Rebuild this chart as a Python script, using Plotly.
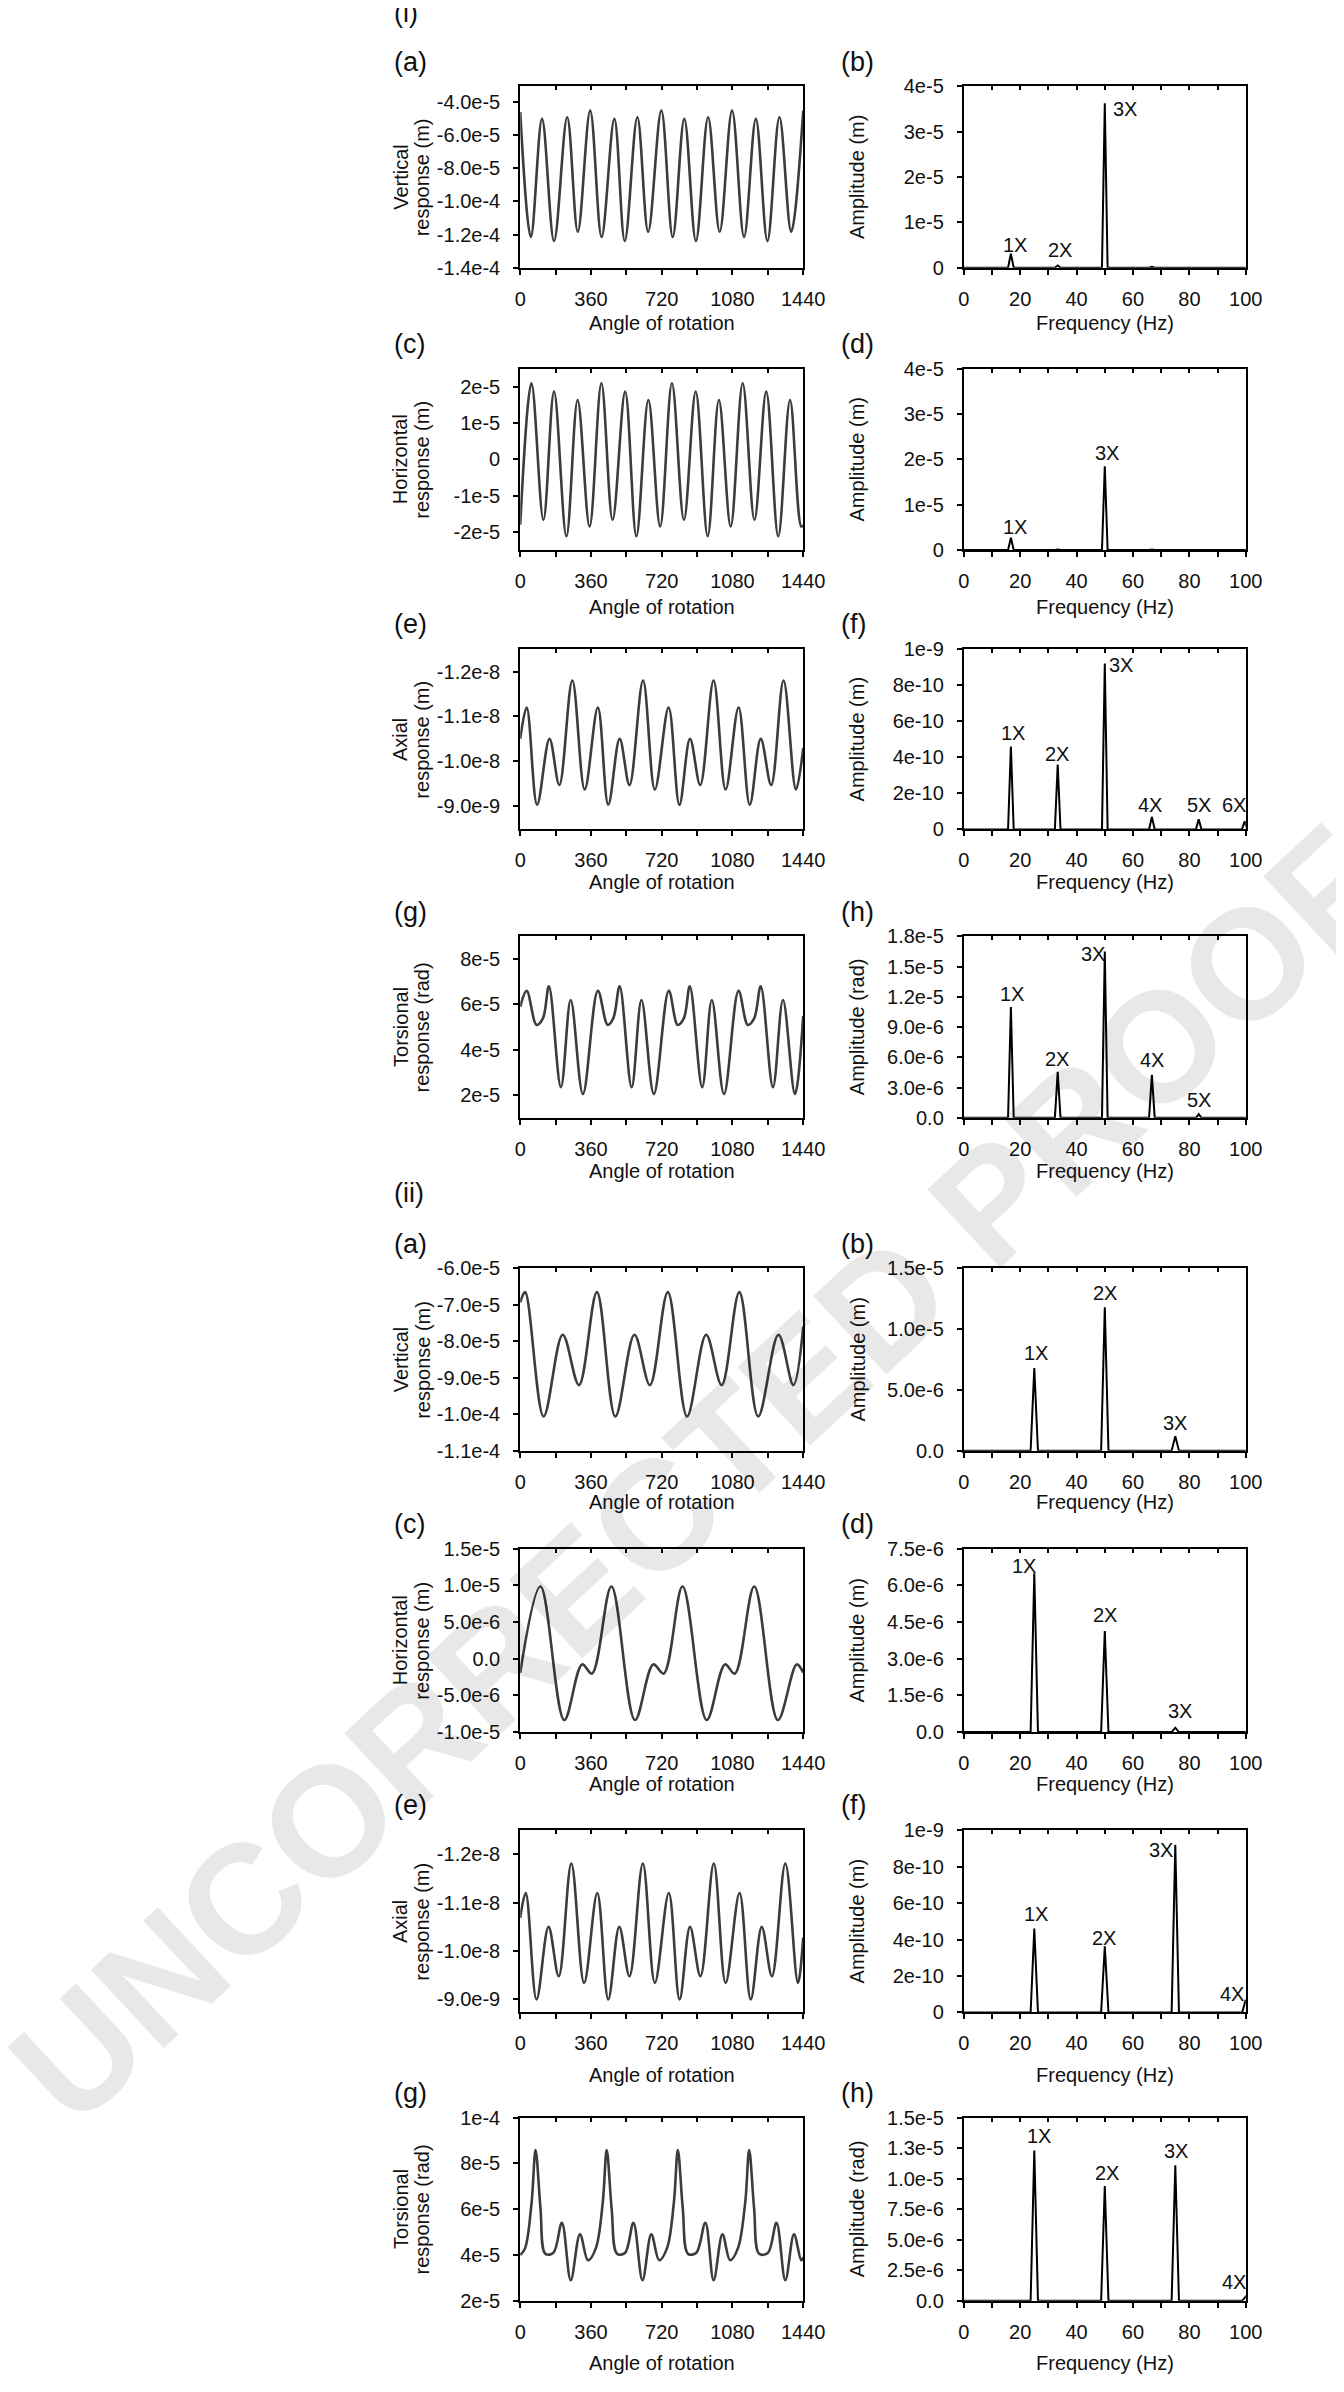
import plotly.graph_objects as go

W, H = 1344, 2392

# ---------------- data ----------------
# time responses: (angle in degrees, value) at the turning points of each curve

# (i)(a) vertical response (m)
vert1_angle = [0, 54, 111, 172, 239, 293, 356, 414, 479, 532, 596, 651, 718, 776, 835, 894,
               956, 1015, 1078, 1139, 1199, 1258, 1319, 1379, 1440]
vert1_value = [-4.6e-5, -1.215e-4, -5.02e-5, -1.239e-4, -4.92e-5, -1.183e-4, -4.52e-5,
               -1.215e-4, -5.02e-5, -1.239e-4, -4.92e-5, -1.183e-4, -4.52e-5,
               -1.215e-4, -5.02e-5, -1.239e-4, -4.92e-5, -1.183e-4, -4.52e-5,
               -1.215e-4, -5.02e-5, -1.239e-4, -4.92e-5, -1.183e-4, -4.52e-5]

# (i)(c) horizontal response (m)
horiz1_angle = [0, 57, 118, 172, 235, 292, 353, 413, 470, 534, 591, 652, 712, 772, 833, 893,
                954, 1011, 1071, 1132, 1192, 1252, 1313, 1373, 1430, 1440]
horiz1_value = [-1.8e-5, 2.10e-5, -1.67e-5, 1.87e-5, -2.12e-5, 1.64e-5, -1.85e-5,
                2.10e-5, -1.67e-5, 1.87e-5, -2.12e-5, 1.64e-5, -1.85e-5,
                2.10e-5, -1.67e-5, 1.87e-5, -2.12e-5, 1.64e-5, -1.85e-5,
                2.10e-5, -1.67e-5, 1.87e-5, -2.12e-5, 1.64e-5, -1.85e-5, -1.82e-5]

# (i)(e) axial response (m)
axial1_angle = [0, 33, 86, 149, 199, 265, 328, 395, 448, 506, 556, 625, 685, 755, 810, 864,
                916, 984, 1045, 1111, 1168, 1224, 1277, 1340, 1403, 1440]
axial1_value = [-1.05e-8, -1.12e-8, -9.03e-9, -1.05e-8, -9.47e-9, -1.18e-8, -9.37e-9,
                -1.12e-8, -9.03e-9, -1.05e-8, -9.47e-9, -1.18e-8, -9.37e-9,
                -1.12e-8, -9.03e-9, -1.05e-8, -9.47e-9, -1.18e-8, -9.37e-9,
                -1.12e-8, -9.03e-9, -1.05e-8, -9.47e-9, -1.18e-8, -9.37e-9, -1.03e-8]

# (i)(g) torsional response (rad)
tors1_angle = [0, 33, 83, 116, 146, 207, 257, 319, 395, 445, 474, 506, 567, 617, 680,
               756, 801, 833, 863, 926, 975, 1037, 1111, 1158, 1191, 1224, 1286, 1337, 1398, 1440]
tors1_value = [5.9e-5, 6.6e-5, 5.1e-5, 5.4e-5, 6.8e-5, 2.35e-5, 6.2e-5, 2.05e-5,
               6.6e-5, 5.1e-5, 5.4e-5, 6.8e-5, 2.35e-5, 6.2e-5, 2.05e-5,
               6.6e-5, 5.1e-5, 5.4e-5, 6.8e-5, 2.35e-5, 6.2e-5, 2.05e-5,
               6.6e-5, 5.1e-5, 5.4e-5, 6.8e-5, 2.35e-5, 6.2e-5, 2.05e-5, 5.5e-5]

# (ii)(a) vertical response (m)
vert2_angle = [0, 25, 119, 216, 299, 390, 484, 581, 660, 751, 849, 946, 1025, 1115, 1211,
               1314, 1390, 1440]
vert2_value = [-6.93e-5, -6.65e-5, -1.006e-4, -7.82e-5, -9.2e-5, -6.65e-5, -1.006e-4,
               -7.82e-5, -9.2e-5, -6.65e-5, -1.006e-4, -7.82e-5, -9.2e-5, -6.65e-5,
               -1.006e-4, -7.82e-5, -9.2e-5, -7.6e-5]

# (ii)(c) horizontal response (m)
horiz2_angle = [0, 103, 224, 315, 365, 464, 584, 677, 730, 826, 949, 1042, 1092, 1191,
                1311, 1407, 1440]
horiz2_value = [-1.9e-6, 9.85e-6, -8.36e-6, -7.7e-7, -2.03e-6, 9.85e-6, -8.36e-6, -7.7e-7,
                -2.03e-6, 9.85e-6, -8.36e-6, -7.7e-7, -2.03e-6, 9.85e-6, -8.36e-6,
                -7.7e-7, -1.9e-6]

# (ii)(e) axial response (m)
axial2_angle = [0, 28, 83, 144, 196, 260, 325, 392, 448, 504, 556, 624, 685, 756, 811, 864,
                917, 985, 1045, 1116, 1173, 1229, 1281, 1349, 1413, 1440]
axial2_value = [-1.069e-8, -1.12e-8, -9.0e-9, -1.05e-8, -9.48e-9, -1.181e-8, -9.34e-9,
                -1.12e-8, -9.0e-9, -1.05e-8, -9.48e-9, -1.181e-8, -9.34e-9,
                -1.12e-8, -9.0e-9, -1.05e-8, -9.48e-9, -1.181e-8, -9.34e-9,
                -1.12e-8, -9.0e-9, -1.05e-8, -9.48e-9, -1.181e-8, -9.34e-9, -1.028e-8]

# (ii)(g) torsional response (rad)
tors2_angle = [0, 25, 58, 78, 103, 128, 169, 212, 257, 304, 345,
               385, 420, 440, 465, 493, 534, 576, 622, 667, 707,
               747, 782, 802, 827, 854, 896, 942, 984, 1029, 1068,
               1108, 1145, 1165, 1190, 1216, 1261, 1304, 1349, 1393, 1430, 1440]
tors2_value = [4.0e-5, 4.3e-5, 6.3e-5, 8.58e-5, 6.05e-5, 4.05e-5, 4.1e-5, 5.4e-5, 2.9e-5, 4.9e-5, 3.77e-5,
               4.3e-5, 6.3e-5, 8.58e-5, 6.05e-5, 4.05e-5, 4.1e-5, 5.4e-5, 2.9e-5, 4.9e-5, 3.77e-5,
               4.3e-5, 6.3e-5, 8.58e-5, 6.05e-5, 4.05e-5, 4.1e-5, 5.4e-5, 2.9e-5, 4.9e-5, 3.77e-5,
               4.3e-5, 6.3e-5, 8.58e-5, 6.05e-5, 4.05e-5, 4.1e-5, 5.4e-5, 2.9e-5, 4.9e-5, 3.77e-5, 3.9e-5]

# spectra: peak frequency (Hz) and peak amplitude
vert1_peak_f = [16.7, 33.3, 50.0, 66.7]
vert1_peak_a = [3.1e-6, 5e-7, 3.63e-5, 2e-7]
horiz1_peak_f = [16.7, 33.3, 50.0, 66.7]
horiz1_peak_a = [2.7e-6, 1e-7, 1.85e-5, 1e-7]
axial1_peak_f = [16.7, 33.3, 50.0, 66.7, 83.3, 99.6]
axial1_peak_a = [4.6e-10, 3.6e-10, 9.2e-10, 0.7e-10, 0.57e-10, 0.45e-10]
tors1_peak_f = [16.7, 33.3, 50.0, 66.7, 83.3]
tors1_peak_a = [1.1e-5, 4.56e-6, 1.65e-5, 4.27e-6, 3.7e-7]
vert2_peak_f = [25, 50, 75]
vert2_peak_a = [6.8e-6, 1.18e-5, 1.2e-6]
horiz2_peak_f = [25, 50, 75]
horiz2_peak_a = [6.5e-6, 4.14e-6, 1.8e-7]
axial2_peak_f = [25, 50, 75, 100]
axial2_peak_a = [4.6e-10, 3.63e-10, 9.2e-10, 0.7e-10]
tors2_peak_f = [25, 50, 75, 100]
tors2_peak_a = [1.23e-5, 9.4e-6, 1.11e-5, 3.5e-7]

# harmonic labels: text, frequency, amplitude
vert1_lab = [("1X", 18.0, 5.1e-6), ("2X", 34.0, 3.9e-6), ("3X", 57.0, 3.5e-5)]
horiz1_lab = [("1X", 18.1, 5.2e-6), ("3X", 50.9, 2.15e-5)]
axial1_lab = [("1X", 17.5, 5.35e-10), ("2X", 33.2, 4.2e-10), ("3X", 55.8, 9.1e-10),
              ("4X", 66.2, 1.36e-10), ("5X", 83.4, 1.36e-10), ("6X", 95.8, 1.36e-10)]
tors1_lab = [("1X", 17.0, 1.23e-5), ("2X", 33.0, 5.8e-6), ("3X", 45.8, 1.63e-5),
             ("4X", 66.6, 5.7e-6), ("5X", 83.4, 1.8e-6)]
vert2_lab = [("1X", 25.6, 8.0e-6), ("2X", 50.0, 1.3e-5), ("3X", 75.0, 2.3e-6)]
horiz2_lab = [("1X", 21.3, 6.78e-6), ("2X", 50.0, 4.8e-6), ("3X", 76.5, 8.7e-7)]
axial2_lab = [("1X", 25.6, 5.4e-10), ("2X", 49.7, 4.1e-10), ("3X", 70.0, 8.9e-10),
              ("4X", 95.0, 1.04e-10)]
tors2_lab = [("1X", 26.5, 1.35e-5), ("2X", 50.8, 1.05e-5), ("3X", 75.3, 1.23e-5),
             ("4X", 95.8, 1.5e-6)]

# axis ticks
angle_ticks = [0, 360, 720, 1080, 1440]
angle_minor = [180, 540, 900, 1260]
freq_ticks = [0, 20, 40, 60, 80, 100]
freq_minor = [10, 30, 50, 70, 90]

vert1_ticks = [-4e-5, -6e-5, -8e-5, -1e-4, -1.2e-4, -1.4e-4]
vert1_text = ["-4.0e-5", "-6.0e-5", "-8.0e-5", "-1.0e-4", "-1.2e-4", "-1.4e-4"]
horiz1_ticks = [2e-5, 1e-5, 0, -1e-5, -2e-5]
horiz1_text = ["2e-5", "1e-5", "0", "-1e-5", "-2e-5"]
axial_ticks = [-1.2e-8, -1.1e-8, -1.0e-8, -9e-9]
axial_text = ["-1.2e-8", "-1.1e-8", "-1.0e-8", "-9.0e-9"]
tors1_ticks = [8e-5, 6e-5, 4e-5, 2e-5]
tors1_text = ["8e-5", "6e-5", "4e-5", "2e-5"]
vert2_ticks = [-6e-5, -7e-5, -8e-5, -9e-5, -1e-4, -1.1e-4]
vert2_text = ["-6.0e-5", "-7.0e-5", "-8.0e-5", "-9.0e-5", "-1.0e-4", "-1.1e-4"]
horiz2_ticks = [1.5e-5, 1e-5, 5e-6, 0, -5e-6, -1e-5]
horiz2_text = ["1.5e-5", "1.0e-5", "5.0e-6", "0.0", "-5.0e-6", "-1.0e-5"]
tors2_ticks = [1e-4, 8e-5, 6e-5, 4e-5, 2e-5]
tors2_text = ["1e-4", "8e-5", "6e-5", "4e-5", "2e-5"]

amp4_ticks = [0, 1e-5, 2e-5, 3e-5, 4e-5]
amp4_text = ["0", "1e-5", "2e-5", "3e-5", "4e-5"]
amp9_ticks = [0, 2e-10, 4e-10, 6e-10, 8e-10, 1e-9]
amp9_text = ["0", "2e-10", "4e-10", "6e-10", "8e-10", "1e-9"]
tors1_amp_ticks = [0, 3e-6, 6e-6, 9e-6, 1.2e-5, 1.5e-5, 1.8e-5]
tors1_amp_text = ["0.0", "3.0e-6", "6.0e-6", "9.0e-6", "1.2e-5", "1.5e-5", "1.8e-5"]
vert2_amp_ticks = [0, 5e-6, 1e-5, 1.5e-5]
vert2_amp_text = ["0.0", "5.0e-6", "1.0e-5", "1.5e-5"]
horiz2_amp_ticks = [0, 1.5e-6, 3e-6, 4.5e-6, 6e-6, 7.5e-6]
horiz2_amp_text = ["0.0", "1.5e-6", "3.0e-6", "4.5e-6", "6.0e-6", "7.5e-6"]
tors2_amp_ticks = [0, 2.5e-6, 5e-6, 7.5e-6, 1e-5, 1.25e-5, 1.5e-5]
tors2_amp_text = ["0.0", "2.5e-6", "5.0e-6", "7.5e-6", "1.0e-5", "1.3e-5", "1.5e-5"]

# ---------------- layout (pixels of the page) ----------------
FONT = "Liberation Sans, Arial, Helvetica, sans-serif"
LEFT_X = (517, 806)
RIGHT_X = (970, 1258)
ROWS = [(68, 251), (353, 536), (636, 818), (926, 1109),
        (1261, 1445), (1544, 1729), (1828, 2012), (2118, 2303)]
XTITLE_GAP = [56, 57, 53, 54, 52, 52, 63, 63]
PEAK_HALF_WIDTH = [1.0, 1.3]

# one entry per row: time curve, y range, ticks, title / spectrum peaks, labels, range, ticks, title
rows = [
    (vert1_angle, vert1_value, [-1.4e-4, -3.06e-5], vert1_ticks, vert1_text, ("Vertical", "response (m)"),
     vert1_peak_f, vert1_peak_a, vert1_lab, [0, 4e-5], amp4_ticks, amp4_text, "Amplitude (m)"),
    (horiz1_angle, horiz1_value, [-2.5e-5, 2.5e-5], horiz1_ticks, horiz1_text, ("Horizontal", "response (m)"),
     horiz1_peak_f, horiz1_peak_a, horiz1_lab, [0, 4e-5], amp4_ticks, amp4_text, "Amplitude (m)"),
    (axial1_angle, axial1_value, [-8.48e-9, -1.25e-8], axial_ticks, axial_text, ("Axial", "response (m)"),
     axial1_peak_f, axial1_peak_a, axial1_lab, [0, 1e-9], amp9_ticks, amp9_text, "Amplitude (m)"),
    (tors1_angle, tors1_value, [1e-5, 9e-5], tors1_ticks, tors1_text, ("Torsional", "response (rad)"),
     tors1_peak_f, tors1_peak_a, tors1_lab, [0, 1.8e-5], tors1_amp_ticks, tors1_amp_text, "Amplitude (rad)"),
    (vert2_angle, vert2_value, [-1.1e-4, -6e-5], vert2_ticks, vert2_text, ("Vertical", "response (m)"),
     vert2_peak_f, vert2_peak_a, vert2_lab, [0, 1.5e-5], vert2_amp_ticks, vert2_amp_text, "Amplitude (m)"),
    (horiz2_angle, horiz2_value, [-1e-5, 1.5e-5], horiz2_ticks, horiz2_text, ("Horizontal", "response (m)"),
     horiz2_peak_f, horiz2_peak_a, horiz2_lab, [0, 7.5e-6], horiz2_amp_ticks, horiz2_amp_text, "Amplitude (m)"),
    (axial2_angle, axial2_value, [-8.73e-9, -1.25e-8], axial_ticks, axial_text, ("Axial", "response (m)"),
     axial2_peak_f, axial2_peak_a, axial2_lab, [0, 1e-9], amp9_ticks, amp9_text, "Amplitude (m)"),
    (tors2_angle, tors2_value, [2e-5, 1e-4], tors2_ticks, tors2_text, ("Torsional", "response (rad)"),
     tors2_peak_f, tors2_peak_a, tors2_lab, [0, 1.5e-5], tors2_amp_ticks, tors2_amp_text, "Amplitude (rad)"),
]


def fx(p):
    return p / W


def fy(p):
    return 1 - p / H


def spectrum_line(freqs, amps, half):
    xs, ys = [0], [0]
    for f, a in zip(freqs, amps):
        xs += [f - half, f, f + half]
        ys += [0, a, 0]
    xs.append(100)
    ys.append(0)
    return xs, ys


def axis_style(**kw):
    base = dict(showline=True, linecolor="black", linewidth=2, mirror=True,
                ticks="outside", ticklen=5, tickwidth=1.5, tickcolor="black",
                showgrid=False, zeroline=False,
                tickfont=dict(family=FONT, size=20, color="#111111"))
    base.update(kw)
    return base


fig = go.Figure()
layout = {}
annotations = []

txt = dict(family=FONT, size=20, color="#111111")

for r, row in enumerate(rows):
    (ang, val, yr, yt, ytx, ytitle, pf, pa, labs, ar, at, atx, atitle) = row
    top, bot = ROWS[r]
    section = r // 4
    letters = "abcdefgh"[2 * (r % 4): 2 * (r % 4) + 2]
    for c in range(2):
        n = 2 * r + c + 1
        sx = "" if n == 1 else str(n)
        xd = LEFT_X if c == 0 else RIGHT_X
        if c == 0:
            fig.add_trace(go.Scatter(x=ang, y=val, mode="lines",
                                     line=dict(color="#3c3c3c", width=2.6, shape="spline", smoothing=1.0),
                                     xaxis="x" + sx, yaxis="y" + sx, showlegend=False, hoverinfo="skip"))
            xrange, xt, xm = [0, 1440], angle_ticks, angle_minor
            ya = axis_style(domain=[fy(bot), fy(top)], range=yr, tickvals=yt, ticktext=ytx,
                            anchor="x" + sx, ticklabelstandoff=9)
            xtitle = "Angle of rotation"
        else:
            xs, ys = spectrum_line(pf, pa, PEAK_HALF_WIDTH[section])
            fig.add_trace(go.Scatter(x=xs, y=ys, mode="lines", line=dict(color="black", width=2),
                                     xaxis="x" + sx, yaxis="y" + sx, showlegend=False, hoverinfo="skip"))
            xrange, xt, xm = [0, 100], freq_ticks, freq_minor
            ya = axis_style(domain=[fy(bot), fy(top)], range=ar, tickvals=at, ticktext=atx,
                            anchor="x" + sx, ticklabelstandoff=9)
            xtitle = "Frequency (Hz)"
            for t, f, a in labs:
                annotations.append(dict(text=t, x=f, y=a, xref="x" + sx, yref="y" + sx,
                                        showarrow=False, font=txt))
        layout["xaxis" + sx] = axis_style(
            domain=[fx(xd[0]), fx(xd[1])], range=xrange, tickvals=xt,
            minor=dict(tickvals=xm, ticks="outside", ticklen=5, tickwidth=1.5, tickcolor="black"),
            anchor="y" + sx, ticklabelstandoff=7)
        layout["yaxis" + sx] = ya
        # top frame ticks point inward, on a twin axis
        layout["xaxis" + str(16 + n)] = dict(
            overlaying="x" + sx, anchor="y" + sx, side="top", range=xrange, tickvals=xt,
            ticks="inside", ticklen=4, tickwidth=1.5, tickcolor="black", showticklabels=False,
            minor=dict(tickvals=xm, ticks="inside", ticklen=4, tickwidth=1.5, tickcolor="black"),
            showline=False, showgrid=False, zeroline=False)
        fig.add_trace(go.Scatter(x=[], y=[], xaxis="x" + str(16 + n), yaxis="y" + sx,
                                 showlegend=False, hoverinfo="skip"))

        # x title
        annotations.append(dict(text=xtitle, x=fx((xd[0] + xd[1]) / 2), y=fy(bot + XTITLE_GAP[r]),
                                xref="paper", yref="paper", showarrow=False, font=txt,
                                xanchor="center", yanchor="middle"))
        # y title
        mid = (top + bot) / 2
        if c == 0:
            for k, line in enumerate(ytitle):
                annotations.append(dict(text=line, x=fx(395 + 22 * k), y=fy(mid), xref="paper",
                                        yref="paper", showarrow=False, textangle=-90, font=txt,
                                        xanchor="center", yanchor="middle"))
        else:
            annotations.append(dict(text=atitle, x=fx(861), y=fy(mid), xref="paper", yref="paper",
                                    showarrow=False, textangle=-90, font=txt,
                                    xanchor="center", yanchor="middle"))
        # panel letter
        annotations.append(dict(text="(" + letters[c] + ")", x=fx(386 if c == 0 else 843),
                                y=fy(top - 25), xref="paper", yref="paper", showarrow=False,
                                font=dict(family=FONT, size=27, color="#111111"),
                                xanchor="left", yanchor="middle"))

# section labels
for label, ypx in [("(i)", -6), ("(ii)", 1185)]:
    annotations.append(dict(text=label, x=fx(386), y=fy(ypx), xref="paper", yref="paper",
                            showarrow=False, font=dict(family=FONT, size=27, color="#111111"),
                            xanchor="left", yanchor="middle"))

# watermark
annotations.append(dict(text="UNCORRECTED PROOF", x=fx(700), y=fy(1470), xref="paper", yref="paper",
                        showarrow=False, textangle=-43,
                        font=dict(family=FONT, size=156, color="rgba(0,0,0,0.09)", weight="bold"),
                        xanchor="center", yanchor="middle"))

fig.update_layout(**layout)
fig.update_layout(width=W, height=H, margin=dict(l=0, r=0, t=0, b=0),
                  paper_bgcolor="white", plot_bgcolor="white",
                  annotations=annotations, showlegend=False)

fig.write_html("out.html")
